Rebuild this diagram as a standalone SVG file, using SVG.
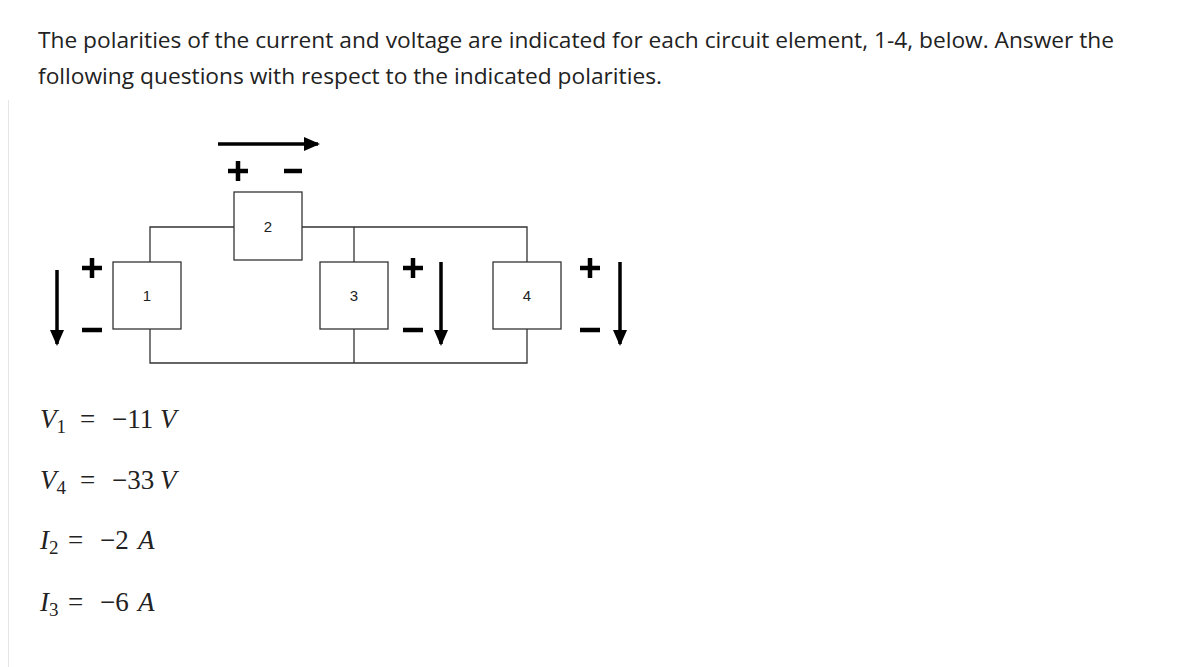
<svg xmlns="http://www.w3.org/2000/svg" width="1177" height="667" viewBox="0 0 1177 667">
<style>
.t{font-family:"Open Sans","Liberation Sans",sans-serif;font-size:21px;fill:#222}
.b{fill:#fff;stroke:#333;stroke-width:1.3}
.n{font-family:"Liberation Sans",sans-serif;font-size:15px;fill:#222;text-anchor:middle}
.w{fill:none;stroke:#333;stroke-width:1.3}
.s{stroke:#000;stroke-width:4.5;fill:none}
.a{stroke:#000;stroke-width:3.5;fill:none}
.m{font-family:"Liberation Serif",serif;font-size:27px;fill:#222}
.i{font-style:italic}
</style>
<defs><marker id="ah" markerWidth="16" markerHeight="14" refX="14" refY="7" orient="auto" markerUnits="userSpaceOnUse"><path d="M0,0L16,7L0,14Z" fill="#000"/></marker></defs>
<rect width="1177" height="667" fill="#fff"/>
<line x1="8.5" y1="100" x2="8.5" y2="667" stroke="#e6e6e6"/>
<text class="t" x="38" y="48" textLength="1076" lengthAdjust="spacingAndGlyphs">The polarities of the current and voltage are indicated for each circuit element, 1-4, below. Answer the</text>
<text class="t" x="38" y="84" textLength="624" lengthAdjust="spacingAndGlyphs">following questions with respect to the indicated polarities.</text>
<g id="connectors">
<path class="w" d="M150,262V227H234M302,227H527V262M354,227V262M150,329V363H527V329M354,329V363"/>
<line class="a" x1="218" y1="144" x2="318" y2="144" marker-end="url(#ah)"/>
<line class="a" x1="57" y1="270" x2="57" y2="344" marker-end="url(#ah)"/>
<line class="a" x1="441" y1="262" x2="441" y2="344" marker-end="url(#ah)"/>
<line class="a" x1="620" y1="262" x2="620" y2="344" marker-end="url(#ah)"/>
<path class="s" d="M228,171H248M238,161V181M284,171H302"/>
<path class="s" d="M82,268H102M92,258V278M82,330H102"/>
<path class="s" d="M403,268H423M413,258V278M403,330H423"/>
<path class="s" d="M580,268H600M590,258V278M580,330H600"/>
</g>
<g id="n1"><rect class="b" x="113" y="262" width="68" height="67"/><text class="n" x="147" y="301">1</text></g>
<g id="n2"><rect class="b" x="234" y="192" width="68" height="68"/><text class="n" x="268" y="232">2</text></g>
<g id="n3"><rect class="b" x="320" y="262" width="68" height="67"/><text class="n" x="354" y="301">3</text></g>
<g id="n4"><rect class="b" x="493" y="262" width="68" height="67"/><text class="n" x="527" y="301">4</text></g>
<text class="m" x="40" y="428"><tspan class="i">V</tspan><tspan font-size="19" dy="5">1</tspan><tspan dy="-5" x="80">=</tspan><tspan x="112">−11</tspan><tspan class="i" x="160">V</tspan></text>
<text class="m" x="40" y="489"><tspan class="i">V</tspan><tspan font-size="19" dy="5">4</tspan><tspan dy="-5" x="80">=</tspan><tspan x="112">−33</tspan><tspan class="i" x="160">V</tspan></text>
<text class="m" x="40" y="549"><tspan class="i">I</tspan><tspan font-size="19" dy="5">2</tspan><tspan dy="-5" x="68">=</tspan><tspan x="100">−2</tspan><tspan class="i" x="138">A</tspan></text>
<text class="m" x="40" y="611"><tspan class="i">I</tspan><tspan font-size="19" dy="5">3</tspan><tspan dy="-5" x="68">=</tspan><tspan x="100">−6</tspan><tspan class="i" x="138">A</tspan></text>
</svg>
